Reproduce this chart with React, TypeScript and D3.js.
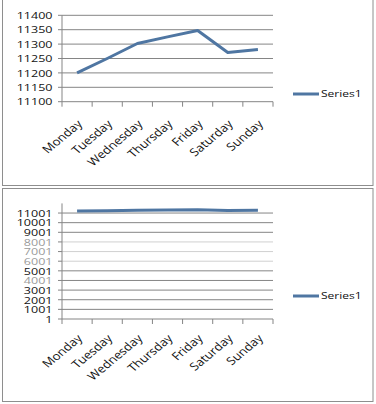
import React from 'react';
import * as d3 from 'd3';

const days = ['Monday', 'Tuesday', 'Wednesday', 'Thursday', 'Friday', 'Saturday', 'Sunday'];
const series1 = [11200, 11250, 11302, 11325, 11347, 11271, 11281];
const topTicks = [11100, 11150, 11200, 11250, 11300, 11350, 11400];
const bottomTicks = [1, 1001, 2001, 3001, 4001, 5001, 6001, 7001, 8001, 9001, 10001, 11001];
const bottomMax = 12001;
const fadedLabels = [4001, 6001, 7001, 8001];
const fadedGrid = [6001, 7001, 8001];

const FONT = "'Open Sans', 'DejaVu Sans', sans-serif";
const FS = 9.3;
const SX = 1.35; // the picture is stretched sideways
const LABEL_SX = 1.2;
const LINE = '#4f76a2';
const GRID = '#858585';

const xScale = d3.scaleBand<string>().domain(days).range([62, 273]).padding(0);

type PanelProps = {
  boxTop: number;
  boxBottom: number;
  yScale: d3.ScaleLinear<number, number>;
  ticks: number[];
  axisTop: number;
  legendY: number;
  labelDrop: number;
  faded?: boolean;
};

const Panel = ({ boxTop, boxBottom, yScale, ticks, axisTop, legendY, labelDrop, faded }: PanelProps) => {
  const axisY = yScale(ticks[0]);
  const bw = xScale.bandwidth();
  const line = d3
    .line<number>()
    .x((_, i) => (xScale(days[i]) as number) + bw / 2)
    .y((d) => yScale(d));

  const tickXs = days.map((d) => xScale(d) as number).concat([xScale.range()[1]]);

  return (
    <g>
      <rect x={2.5} y={boxTop} width={370.5} height={boxBottom - boxTop} fill="#fff" stroke="#8e8e8e" strokeWidth={1} />
      {/* gridlines */}
      {ticks.slice(1).map((t) => (
        <line
          key={t}
          x1={62}
          x2={273}
          y1={yScale(t)}
          y2={yScale(t)}
          stroke={faded && fadedGrid.includes(t) ? '#d0d0d0' : GRID}
          strokeWidth={1}
        />
      ))}
      {/* y axis */}
      <line x1={62} x2={62} y1={axisTop} y2={axisY} stroke={GRID} />
      {ticks.map((t) => (
        <g key={t}>
          <line x1={58} x2={62} y1={yScale(t)} y2={yScale(t)} stroke={GRID} />
          <text
            transform={`translate(52.5, ${yScale(t)}) scale(${SX},1)`}
            textAnchor="end"
            dominantBaseline="central"
            fontFamily={FONT}
            fontSize={FS}
            fill={faded && fadedLabels.includes(t) ? '#9a9a9a' : '#111'}
          >
            {t}
          </text>
        </g>
      ))}
      {/* x axis */}
      <line x1={62} x2={273} y1={axisY} y2={axisY} stroke={GRID} />
      {tickXs.map((x, i) => (
        <line key={i} x1={x} x2={x} y1={axisY} y2={axisY + 5} stroke={GRID} />
      ))}
      {days.map((d) => {
        const cx = (xScale(d) as number) + bw / 2 + 6;
        const cy = axisY + labelDrop;
        return (
          <text
            key={d}
            transform={`translate(${cx}, ${cy}) scale(${LABEL_SX},1) rotate(-45)`}
            textAnchor="end"
            fontFamily={FONT}
            fontSize={11}
            fill="#111"
          >
            {d}
          </text>
        );
      })}
      {/* series */}
      <path d={line(series1) as string} fill="none" stroke={LINE} strokeWidth={3} strokeLinejoin="round" />
      {/* legend */}
      <line x1={293} x2={319} y1={legendY} y2={legendY} stroke={LINE} strokeWidth={3} />
      <text
        transform={`translate(321, ${legendY}) scale(${SX},1)`}
        dominantBaseline="central"
        fontFamily={FONT}
        fontSize={8.9}
        fill="#111"
      >
        Series1
      </text>
    </g>
  );
};

const App = () => {
  const yTop = d3.scaleLinear().domain([11100, 11400]).range([101.7, 15.3]);
  const yBottom = d3.scaleLinear().domain([1, bottomMax]).range([319, 203.4]);

  return (
    <div style={{ position: 'absolute', left: 0, top: 0 }}>
      <svg width={376} height={404} style={{ display: 'block', background: '#fff' }}>
        <Panel
          boxTop={-5}
          boxBottom={185.5}
          yScale={yTop}
          ticks={topTicks}
          axisTop={15.3}
          legendY={94}
          labelDrop={23}
        />
        <Panel
          boxTop={188.5}
          boxBottom={401.5}
          yScale={yBottom}
          ticks={bottomTicks}
          axisTop={203.4}
          legendY={296}
          labelDrop={20}
          faded
        />
      </svg>
    </div>
  );
};

export default App;
